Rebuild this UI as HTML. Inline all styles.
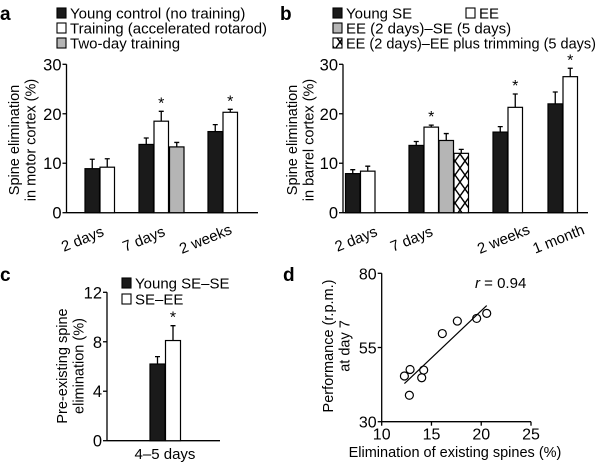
<!DOCTYPE html>
<html><head><meta charset="utf-8"><style>
body{margin:0;background:#fff}
svg{display:block;font-family:"Liberation Sans",Arial,sans-serif}
</style></head><body>
<svg id="fig" width="600" height="462" viewBox="0 0 600 462">
<defs>
<pattern id="chk" width="10" height="14" patternUnits="userSpaceOnUse">
<rect width="10" height="14" fill="#fff"/>
<path d="M0 0L10 14M10 0L0 14" stroke="#000" stroke-width="1.4"/>
</pattern>
</defs>
<g id="root"></g>
</svg>
<script>
// Panel a data
const aGroups = ["2 days","7 days","2 weeks"];
const aControl = [8.9, 13.8, 16.4];
const aControlErr = [1.9, 1.3, 1.4];
const aTraining = [9.2, 18.5, 20.3];
const aTrainingErr = [1.7, 2.0, 0.6];
const aTwoDay = [null, 13.3, null];
const aTwoDayErr = [null, 0.9, null];
const aYTicks = [0,10,20,30];
// Panel b data
const bGroups = ["2 days","7 days","2 weeks","1 month"];
const bSE = [7.9, 13.6, 16.3, 22.0];
const bSEErr = [0.8, 0.8, 1.1, 2.4];
const bEE = [8.4, 17.3, 21.3, 27.5];
const bEEErr = [1.0, 0.4, 2.7, 1.7];
const bEESE = [null, 14.6, null, null];
const bEESEErr = [null, 1.4, null, null];
const bTrim = [null, 12.0, null, null];
const bTrimErr = [null, 0.8, null, null];
const bYTicks = [0,10,20,30];
// Panel c data
const cGroups = ["4–5 days"];
const cSESE = [6.2];
const cSESEErr = [0.6];
const cSEEE = [8.1];
const cSEEEErr = [1.2];
const cYTicks = [0,4,8,12];
// Panel d data
const dX = [12.28, 12.85, 12.78, 14.02, 14.22, 16.09, 17.6, 19.54, 20.55];
const dY = [45.4, 47.6, 38.9, 44.8, 47.4, 59.7, 63.9, 64.8, 66.5];
const dXTicks = [10,15,20,25];
const dYTicks = [30,55,80];

const NS="http://www.w3.org/2000/svg";
const root=document.getElementById('root');
function el(tag,attrs,parent,text){const e=document.createElementNS(NS,tag);for(const k in attrs)e.setAttribute(k,attrs[k]);if(text!==undefined)e.textContent=text;(parent||root).appendChild(e);return e;}

function lin(d0,d1,r0,r1){return v=>r0+(v-d0)*(r1-r0)/(d1-d0);}

function axesBar(g,x0,x1,yScale,ticks){
  const yb=yScale(ticks[0]);
  const ya=el('line',{x1:x0,y1:yScale(ticks[ticks.length-1]),x2:x0,y2:yb,stroke:'#000','stroke-width':1.3},g);
  
  
  const xa=el('line',{x1:x0,y1:yb,x2:x1,y2:yb,stroke:'#000','stroke-width':1.3},g);
  
  
  ticks.forEach(t=>{
    const y=yScale(t);
    const tk=el('line',{x1:x0-4,y1:y,x2:x0,y2:y,stroke:'#000','stroke-width':1.3},g);
    
    
    const tl=el('text',{x:x0-5,y:y+6,'text-anchor':'end','font-size':16.5},g,String(t));
    
    
  });
}
function bar(g,x,w,v,err,yScale,fill,name){
  const y0=yScale(0),y=yScale(v),ye=yScale(v+err);
  const r=el('rect',{x:x,y:y,width:w,height:y0-y,fill:fill,stroke:'#000','stroke-width':1.2},g);
  
  
  const e=el('path',{d:`M${x+w/2} ${y}V${ye}M${x+w/2-2.5} ${ye}H${x+w/2+2.5}`,stroke:'#000','stroke-width':1.3,fill:'none'},g);
  
  
  return ye;
}
function star(g,x,y){
  const s=el('text',{x:x,y:y+9,'text-anchor':'middle','font-size':16},g,'*');
  
  
}
function legend(g,x,y,fill,label,name,len){
  const r=el('rect',{x:x,y:y-5,width:9,height:10,fill:fill,stroke:'#000','stroke-width':1.1},g);
  
  
  const at={x:x+13,y:y+5.5,'font-size':15};
  if(len){at.textLength=len;at.lengthAdjust='spacingAndGlyphs';}
  const t=el('text',at,g,label);
  
  
}
function panelLabel(g,x,y,s){
  const t=el('text',{x:x,y:y,'font-size':19,'font-weight':'bold'},g,s);
  
  
}
function yTitle(g,x,y,lines){
  const t=el('text',{transform:`translate(${x},${y}) rotate(-90)`,'text-anchor':'middle','font-size':14.5},g);
  
  
  lines.forEach((l,i)=>{el('tspan',{x:0,dy:i?16.5:0},t,l);});
}

// ---------- Panel a ----------
{
const g=el('g',{});  
panelLabel(g,0,20,'a');
legend(g,57,13,'#1a1a1a','Young control (no training)','legend-young-control');
legend(g,57,28,'#fff','Training (accelerated rotarod)','legend-training');
legend(g,57,43,'#b5b5b5','Two-day training','legend-two-day');
const ys=lin(0,30,212.7,64.3);
axesBar(g,66.5,258,ys,aYTicks);
yTitle(g,19,140,['Spine elimination','in motor cortex (%)']);
const gx=[85,139,208], w=14.5;
aGroups.forEach((name,i)=>{
  bar(g,gx[i],w,aControl[i],aControlErr[i],ys,'#1a1a1a','bar-control-'+i);
  const te=bar(g,gx[i]+w+0.5,w,aTraining[i],aTrainingErr[i],ys,'#fff','bar-training-'+i);
  if(aTwoDay[i]!==null) bar(g,gx[i]+2*w+1.5,w,aTwoDay[i],aTwoDayErr[i],ys,'#b5b5b5','bar-two-day-'+i);
  if(i>0) star(g,gx[i]+w*1.5+0.5,te-12);
  const cx=gx[i]+(aTwoDay[i]!==null?1.5*w:w)-17;
  const t=el('text',{x:cx,y:244,'text-anchor':'middle','font-size':15,transform:`rotate(-22 ${cx} 239)`},g,name);
  
  
});
}
// ---------- Panel b ----------
{
const g=el('g',{});  
panelLabel(g,280,20,'b');
legend(g,333,13,'#1a1a1a','Young SE','legend-young-se');
legend(g,466,13,'#fff','EE','legend-ee');
legend(g,333,28,'#b5b5b5','EE (2 days)–SE (5 days)','legend-ee-se');
legend(g,333,43,'url(#chk)','EE (2 days)–EE plus trimming (5 days)','legend-ee-trim',250);
const ys=lin(0,30,212.7,64.3);
axesBar(g,343,588,ys,bYTicks);
yTitle(g,297,140,['Spine elimination','in barrel cortex (%)']);
const gx=[345.5,409,493,548], w=14.5;
bGroups.forEach((name,i)=>{
  bar(g,gx[i],w,bSE[i],bSEErr[i],ys,'#1a1a1a','bar-young-se-'+i);
  const te=bar(g,gx[i]+w+0.5,w,bEE[i],bEEErr[i],ys,'#fff','bar-ee-'+i);
  if(bEESE[i]!==null) bar(g,gx[i]+2*w+1,w,bEESE[i],bEESEErr[i],ys,'#b5b5b5','bar-ee-se-'+i);
  if(bTrim[i]!==null) bar(g,gx[i]+3*w+1.5,w,bTrim[i],bTrimErr[i],ys,'url(#chk)','bar-ee-trim-'+i);
  if(i>0) star(g,gx[i]+w*1.5+0.5,te-12);
  const cx=gx[i]+w+ (i===1?-12:-4);
  const t=el('text',{x:cx,y:244,'text-anchor':'middle','font-size':15,transform:`rotate(-22 ${cx} 239)`},g,name);
  
  
});
}
// ---------- Panel c ----------
{
const g=el('g',{});  
panelLabel(g,0,281,'c');
legend(g,122,283,'#1a1a1a','Young SE–SE','legend-young-se-se');
legend(g,122,299,'#fff','SE–EE','legend-se-ee');
const ys=lin(0,12,440.7,292.3);
axesBar(g,107,220,ys,cYTicks);
yTitle(g,67,366,['Pre-existing spine','elimination (%)']);
const gx=[150], w=15;
cGroups.forEach((name,i)=>{
  bar(g,gx[i],w,cSESE[i],cSESEErr[i],ys,'#1a1a1a','bar-se-se');
  const te=bar(g,gx[i]+w+0.5,w,cSEEE[i],cSEEEErr[i],ys,'#fff','bar-se-ee');
  star(g,gx[i]+w*1.5+0.5,te-12);
  const t=el('text',{x:gx[i]+w,y:459,'text-anchor':'middle','font-size':15},g,name);
  
  
});
}
// ---------- Panel d ----------
{
const g=el('g',{});  
panelLabel(g,283,281,'d');
const xs=lin(10,25,381.7,531), ys=lin(30,80,421.7,273.3);
const ya=el('line',{x1:xs(10),y1:ys(80),x2:xs(10),y2:ys(30),stroke:'#000','stroke-width':1.3},g);
 
const xa=el('line',{x1:xs(10),y1:ys(30),x2:xs(25),y2:ys(30),stroke:'#000','stroke-width':1.3},g);
 
dYTicks.forEach(t=>{
  const y=ys(t);
  const tk=el('line',{x1:xs(10)-4,y1:y,x2:xs(10),y2:y,stroke:'#000','stroke-width':1.3},g);
   
  const tl=el('text',{x:xs(10)-5,y:y+6,'text-anchor':'end','font-size':16},g,String(t));
   
});
dXTicks.forEach(t=>{
  const x=xs(t);
  const tk=el('line',{x1:x,y1:ys(30),x2:x,y2:ys(30)+4,stroke:'#000','stroke-width':1.3},g);
   
  const tl=el('text',{x:x,y:ys(30)+18,'text-anchor':'middle','font-size':16},g,String(t));
   
});
const xt=el('text',{x:455,y:457,'text-anchor':'middle','font-size':14.5},g,'Elimination of existing spines (%)');
 
yTitle(g,333,346,['Performance (r.p.m.)','at day 7']);
// regression
const n=dX.length, mx=dX.reduce((a,b)=>a+b)/n, my=dY.reduce((a,b)=>a+b)/n;
let sxy=0,sxx=0; for(let i=0;i<n;i++){sxy+=(dX[i]-mx)*(dY[i]-my);sxx+=(dX[i]-mx)**2;}
const sl=sxy/sxx, ic=my-sl*mx;
const x0=Math.min(...dX), x1=Math.max(...dX);
const ln=el('line',{x1:xs(x0),y1:ys(ic+sl*x0),x2:xs(x1),y2:ys(ic+sl*x1),stroke:'#000','stroke-width':1.2},g);
 
dX.forEach((x,i)=>{
  const c=el('circle',{cx:xs(x),cy:ys(dY[i]),r:4,fill:'none',stroke:'#000','stroke-width':1.2},g);
   
});
const rt=el('text',{x:475,y:288,'font-size':15},g);
 
el('tspan',{'font-style':'italic'},rt,'r');
el('tspan',{},rt,' = 0.94');
}
</script>
</body></html>
